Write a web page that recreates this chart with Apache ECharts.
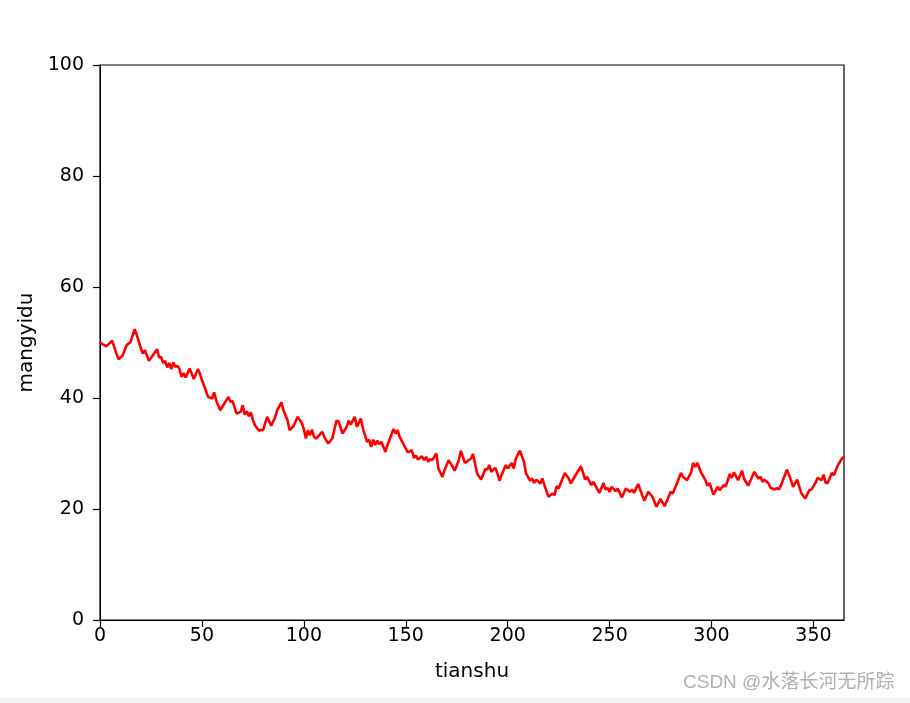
<!DOCTYPE html>
<html>
<head>
<meta charset="utf-8">
<script src="https://cdn.jsdelivr.net/npm/echarts@6/dist/echarts.min.js"></script>
<style>html,body{margin:0;padding:0;background:#fff;}#c{width:910px;height:703px;}</style>
</head>
<body>
<div id="c"></div>
<script>
const xTicks = [0, 50, 100, 150, 200, 250, 300, 350];
const yTicks = [0, 20, 40, 60, 80, 100];
const days = [0,3,6,9,11,13,15,17,18,20,21,22,24,25,28,29,30,31,32,33,34,35,36,37,38,39,40,41,42,44,46,48,49,50,51,53,55,56,57,59,61,63,64,65,67,69,70,71,72,73,74,75,76,78,79,80,82,84,86,87,89,90,92,93,95,97,99,100,101,102,103,104,105,106,109,110,112,114,116,117,119,121,122,123,125,126,127,128,129,131,132,133,134,135,136,137,138,140,141,144,145,146,147,150,151,153,154,155,156,158,159,160,161,162,163,165,166,168,169,171,173,174,176,177,179,182,183,185,187,189,190,191,192,194,195,196,197,199,200,202,203,204,206,208,209,211,212,213,214,216,217,218,220,222,223,224,225,228,230,231,233,236,238,239,241,242,245,247,248,249,250,251,253,254,256,258,260,261,262,264,267,269,271,273,275,277,280,281,283,285,286,288,290,291,292,293,295,297,298,299,301,303,304,306,307,309,310,311,313,315,316,318,321,323,324,325,326,328,329,331,332,333,334,337,339,340,342,344,346,348,349,351,352,354,355,356,357,359,360,362,364,365];
const mangyidu = [50.0,49.3,50.3,47.0,47.6,49.5,50.1,52.4,51.4,49.0,48.0,48.6,46.7,47.2,48.8,47.3,47.4,46.3,46.7,45.5,46.3,45.2,46.4,45.6,45.8,45.2,43.8,44.5,43.7,45.3,43.4,45.2,44.4,43.2,42.3,40.2,39.9,41.0,39.6,37.8,39.0,40.2,39.3,39.5,37.2,37.5,38.7,37.0,37.6,36.7,37.4,36.1,35.1,34.1,34.3,34.2,36.6,35.0,36.6,37.8,39.2,37.8,36.0,34.2,35.0,36.6,35.5,34.4,32.7,34.2,33.3,34.3,33.0,32.7,33.9,33.0,31.8,32.7,35.9,35.8,33.6,34.8,35.9,35.2,36.6,34.8,35.5,36.3,34.5,32.1,32.5,31.2,32.5,31.5,32.3,31.7,32.1,30.3,31.5,34.4,33.6,34.2,33.0,30.9,30.2,30.6,29.2,29.6,28.9,29.5,28.8,29.4,28.5,29.0,28.8,30.0,27.3,25.8,27.0,28.8,27.6,26.9,28.8,30.5,28.3,29.1,29.9,26.4,25.3,27.2,27.1,27.9,26.7,27.4,26.4,25.1,26.1,27.9,27.3,28.3,27.3,29.1,30.5,28.5,26.4,25.1,25.5,24.7,25.3,24.6,25.5,24.3,22.2,22.8,22.5,24.1,23.7,26.5,25.5,24.6,25.9,27.7,25.3,25.8,24.3,24.9,22.9,24.7,23.5,23.8,23.1,24.0,23.2,23.7,22.1,23.7,23.1,23.5,22.9,24.5,21.5,23.1,22.2,20.4,21.8,20.5,23.1,22.8,24.6,26.5,25.8,25.2,26.6,28.3,27.6,28.3,26.5,25.2,24.2,24.7,22.6,24.0,23.4,24.3,24.1,26.3,25.6,26.6,25.2,26.9,25.4,24.2,26.7,25.5,25.8,24.9,25.3,24.6,23.8,23.5,23.8,23.5,24.2,27.1,25.2,24.0,25.3,22.9,21.9,23.4,23.5,24.7,25.6,25.2,26.2,24.7,24.7,26.5,26.1,27.9,29.1,29.4];

const FONT = 'DejaVu Sans';
const chart = echarts.init(document.getElementById('c'), null, {renderer: 'canvas'});
chart.setOption({
  animation: false,
  backgroundColor: '#ffffff',
  grid: {left: 100, right: 66, top: 65, bottom: 83, show: true, borderColor: '#000', borderWidth: 1.2, backgroundColor: 'transparent'},
  xAxis: {
    type: 'value', min: 0, max: 365,
    name: 'tianshu', nameLocation: 'middle', nameGap: 42,
    nameTextStyle: {fontFamily: FONT, fontSize: 20, color: '#000'},
    axisLine: {show: true, lineStyle: {color: '#000', width: 1}},
    axisTick: {show: true, length: 7, lineStyle: {color: '#000', width: 1.2}, customValues: xTicks},
    axisLabel: {fontFamily: FONT, fontSize: 19, color: '#000', margin: 7, customValues: xTicks},
    splitLine: {show: false}
  },
  yAxis: {
    type: 'value', min: 0, max: 100, interval: 20,
    name: 'mangyidu', nameLocation: 'middle', nameRotate: 90, nameGap: 61,
    nameTextStyle: {fontFamily: FONT, fontSize: 20, color: '#000'},
    axisLine: {show: true, lineStyle: {color: '#000', width: 1}},
    axisTick: {show: true, length: 7, lineStyle: {color: '#000', width: 1.2}, customValues: yTicks},
    axisLabel: {fontFamily: FONT, fontSize: 19, color: '#000', margin: 16, customValues: yTicks},
    splitLine: {show: false}
  },
  series: [{
    type: 'line',
    data: days.map((d, i) => [d, mangyidu[i]]),
    showSymbol: false,
    lineStyle: {color: '#ff0000', width: 2.6},
    itemStyle: {color: '#ff0000'}
  }],
  graphic: [
    {type: 'rect', shape: {x: 0, y: 698, width: 910, height: 5}, style: {fill: '#f1f1f1'}, silent: true},
    {type: 'text', left: 683, top: 673, style: {text: 'CSDN @水落长河无所踪', fill: '#b0b0b0', font: '19px "Liberation Sans", "Noto Sans CJK SC", sans-serif'}, silent: true}
  ]
});
</script>
</body>
</html>
